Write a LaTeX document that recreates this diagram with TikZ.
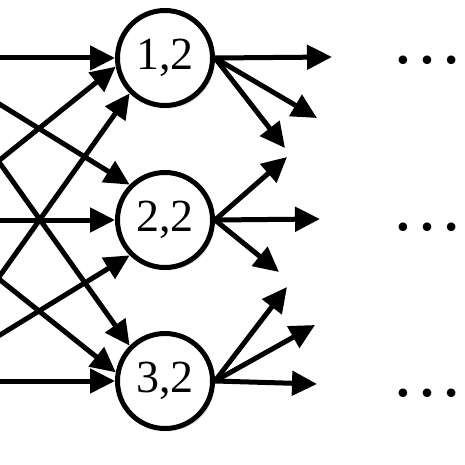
\documentclass[tikz,border=0pt]{standalone}
\usepackage{fontspec}
\setmainfont{Liberation Serif}
\usetikzlibrary{arrows.meta,shadows}
\tikzset{
  stage/.style={circle,draw,line width=5pt,fill=white,minimum size=95pt,inner sep=0pt,
    font=\fontsize{46}{50}\selectfont,
    drop shadow={shadow xshift=2pt,shadow yshift=-3pt,opacity=0.25}},
  link/.style={line width=5pt,-{Triangle[length=25pt,width=24pt]}},
  more/.style={font=\fontsize{72}{80}\selectfont,inner sep=0pt,anchor=base}
}
\begin{document}
\begin{tikzpicture}[x=1pt,y=-1pt]
    \useasboundingbox (0,0) rectangle (465,465);
    \clip (0,0) rectangle (465,465);
    % previous stage, off the left edge
    \coordinate (p1) at (-75,58);
    \coordinate (p2) at (-75,220);
    \coordinate (p3) at (-75,381);
    \node[stage] (n12) at (165,58) {1,2};
    \node[stage] (n22) at (165,220) {2,2};
    \node[stage] (n32) at (165,381) {3,2};
    \foreach \s/\t in {p1/n12.west,p2/n12.190,p3/n12.south west,
                       p1/n22.north west,p2/n22.west,p3/n22.south west,
                       p1/n32.north west,p2/n32.170,p3/n32.west}
      {\draw[link] (\s) -- (\t);}
    \foreach \n/\x/\y [count=\i] in {n12/332/57,n12/317/118,n12/285/148,
                                     n22/287/157,n22/320/219,n22/279/272,
                                     n32/287/287,n32/315/325,n32/317/384}
      {\coordinate (o\i) at (\x,\y); \draw[link] (\n.east) -- (o\i);}
    \node[more] (d1) at (427,64) {…};
    \node[more] (d2) at (427,230) {…};
    \node[more] (d3) at (427,396) {…};
\end{tikzpicture}
\end{document}
